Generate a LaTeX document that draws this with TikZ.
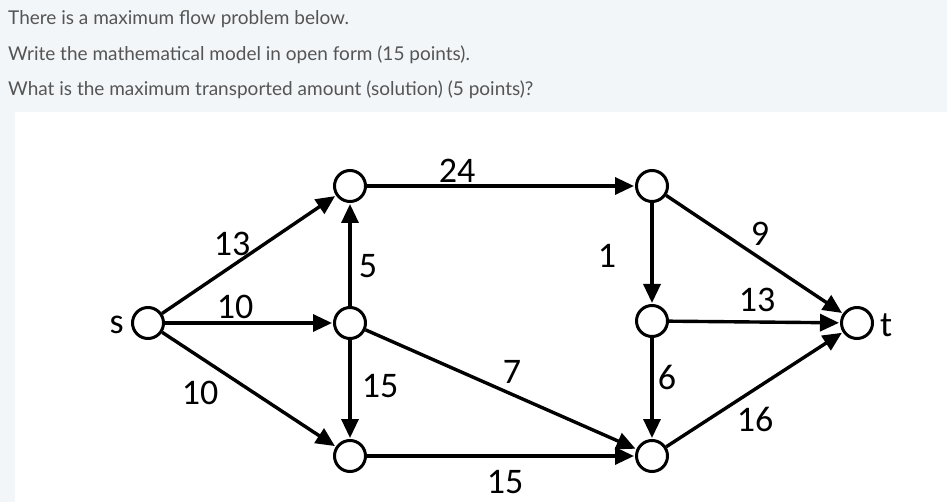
\documentclass[tikz,border=0pt]{standalone}
\usepackage{fontspec}
\setmainfont{Carlito}
\newfontfamily\uifont{Lato}
\usetikzlibrary{arrows.meta}
\definecolor{bgc}{HTML}{F3F6F9}
\definecolor{txt}{HTML}{555555}
\begin{document}
\begin{tikzpicture}[x=1pt,y=-1pt,
  vert/.style={circle,draw,line width=3pt,minimum size=31pt,inner sep=0pt},
  arc/.style={line width=3.4pt,-{Triangle[length=19pt,width=17pt]},shorten >=1pt},
  lab/.style={font=\fontsize{36}{36}\selectfont,inner sep=0pt},
  q/.style={font=\uifont\fontsize{19}{19}\selectfont,text=txt,anchor=west,inner sep=0pt}]
\fill[bgc] (0,0) rectangle (947,502);
\fill[white] (15,112) rectangle (947,502);
\useasboundingbox (0,0) rectangle (947,502);
\node[q] (q1) at (8,19) {There is a maximum flow problem below.};
\node[q] (q2) at (8,55) {Write the mathematical model in open form (15 points).};
\node[q] (q3) at (8,90) {What is the maximum transported amount (solution) (5 points)?};
\node[vert] (s) at (148,323) {};
\node[vert] (a) at (350,186) {};
\node[vert] (b) at (350,323) {};
\node[vert] (c) at (350,456) {};
\node[vert] (d) at (652,186) {};
\node[vert] (e) at (652,321) {};
\node[vert] (f) at (652,456) {};
\node[vert] (t) at (857,323) {};
\node[lab,anchor=east] (sl) at (124,325) {s};
\node[lab,anchor=west] (tl) at (880,325) {t};
\draw[arc] (s) -- (a);
\draw[arc] (s) -- (b);
\draw[arc] (s) -- (c);
\draw[arc] (b) -- (a);
\draw[arc] (b) -- (c);
\draw[arc] (a) -- (d);
\draw[arc] (d) -- (e);
\draw[arc] (d) -- (t);
\draw[arc] (e) -- (t);
\draw[arc] (b) -- (f);
\draw[arc] (c) -- (f);
\draw[arc] (e) -- (f);
\draw[arc] (f) -- (t);
\node[lab] (l1) at (457,171) {24};
\node[lab] (l2) at (232,244) {13};
\node[lab] (l3) at (235,307) {10};
\node[lab] (l4) at (200,393) {10};
\node[lab] (l5) at (368,266) {5};
\node[lab] (l6) at (380,386) {15};
\node[lab] (l7) at (607,256) {1};
\node[lab] (l8) at (512,372) {7};
\node[lab] (l9) at (505,482) {15};
\node[lab] (l10) at (760,234) {9};
\node[lab] (l11) at (757,300) {13};
\node[lab] (l12) at (667,377) {6};
\node[lab] (l13) at (755,419) {16};
\end{tikzpicture}
\end{document}
